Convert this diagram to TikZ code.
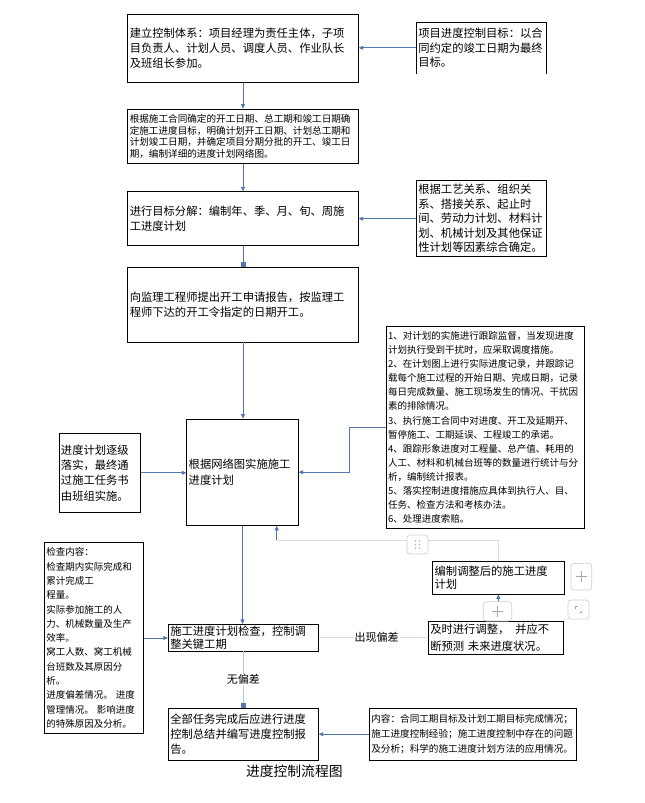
\documentclass[tikz,border=0pt]{standalone}
\usepackage{fontspec}
\newfontfamily\cjk{Noto Sans CJK SC}
\usetikzlibrary{arrows.meta}
\definecolor{linkblue}{RGB}{84,118,172}
\definecolor{faintline}{RGB}{214,220,228}
\definecolor{softblue}{RGB}{180,194,214}
\definecolor{uigray}{RGB}{205,208,214}
\newcommand{\fz}[2]{\cjk\fontsize{#1}{#2}\selectfont}

\begin{document}
\begin{tikzpicture}[x=1pt,y=-1pt]

%
% Styles
%
\tikzstyle{box} = [rectangle,draw=black,line width=0.8pt,inner xsep=2pt,inner ysep=0pt,align=left]
\tikzstyle{link} = [draw=linkblue,line width=0.8pt,-{Triangle[length=4.5pt,width=4pt]}]
\tikzstyle{plug} = [draw=linkblue,line width=0.8pt,-{Square[length=4.5pt,width=5pt]}]
\tikzstyle{faint} = [draw=faintline,line width=0.8pt]
\tikzstyle{tag} = [fill=white,inner sep=1pt,font=\fz{11}{13}]
\tikzstyle{uibtn} = [draw=uigray,fill=white,rounded corners=3pt,line width=0.7pt]
\tikzstyle{uimark} = [draw=gray!70,line width=0.6pt]

\useasboundingbox (0,0) rectangle (645,803);

\node[box,text width=226.5pt,minimum height=68pt,font=\fz{11.3}{14.7}] (ctrl) at (243,48.3)
  {建立控制体系：项目经理为责任主体，子项\\目负责人、计划人员、调度人员、作业队长\\及班组长参加。};
\node[box,draw=none,text width=125.7pt,minimum height=51pt,font=\fz{11.3}{14.5}] (goal) at (481.2,47.8)
  {项目进度控制目标：以合\\同约定的竣工日期为最终\\目标。};
\draw[line width=0.8pt] (goal.south west) -- (goal.north west) -- (goal.north east) -- (goal.south east);
\node[box,text width=226.5pt,minimum height=54.3pt,font=\fz{9.6}{11.5}] (plan) at (243,136.2)
  {根据施工合同确定的开工日期、总工期和竣工日期确\\定施工进度目标，明确计划开工日期、计划总工期和\\计划竣工日期，并确定项目分期分批的开工、竣工日\\期，编制详细的进度计划网络图。};
\node[box,text width=226.5pt,minimum height=53.6pt,font=\fz{11.3}{15.6}] (split) at (243,218.5)
  {进行目标分解：编制年、季、月、旬、周施\\工进度计划};
\node[box,text width=125.7pt,minimum height=76pt,font=\fz{11.3}{14.5}] (factor) at (481.2,218.7)
  {根据工艺关系、组织关\\系、搭接关系、起止时\\间、劳动力计划、材料计\\划、机械计划及其他保证\\性计划等因素综合确定。};
\node[box,text width=226.5pt,minimum height=74.7pt,font=\fz{11.3}{15.7}] (apply) at (243,304.6)
  {向监理工程师提出开工申请报告，按监理工\\程师下达的开工令指定的日期开工。};
\node[box,text width=107.6pt,minimum height=106.3pt,font=\fz{11.3}{16}] (exec) at (242.5,472.2)
  {根据网络图实施施工\\进度计划};
\node[box,text width=77.7pt,minimum height=79.7pt,font=\fz{11.3}{15.4}] (floor) at (99.8,472.8)
  {进度计划逐级\\落实，最终通\\过施工任务书\\由班组实施。};
\node[box,inner xsep=1.5pt,text width=194.6pt,minimum height=201.6pt,font=\fz{9.5}{14.1}] (track) at (485.5,427.5)
  {1、对计划的实施进行跟踪监督，当发现进度\\计划执行受到干扰时，应采取调度措施。\\2、在计划图上进行实际进度记录，并跟踪记\\载每个施工过程的开始日期、完成日期，记录\\每日完成数量、施工现场发生的情况、干扰因\\素的排除情况。\\3、执行施工合同中对进度、开工及延期开、\\暂停施工、工期延误、工程竣工的承诺。\\4、跟踪形象进度对工程量、总产值、耗用的\\人工、材料和机械台班等的数量进行统计与分\\析，编制统计报表。\\5、落实控制进度措施应具体到执行人、目、\\任务、检查方法和考核办法。\\6、处理进度索赔。};
\node[box,text width=95pt,minimum height=190.6pt,font=\fz{9.5}{14.3}] (inspect) at (93.8,638)
  {检查内容：\\检查期内实际完成和\\累计完成工\\程量。\\实际参加施工的人\\力、机械数量及生产\\效率。\\窝工人数、窝工机械\\台班数及其原因分\\析。\\进度偏差情况。 进度\\管理情况。 影响进度\\的特殊原因及分析。};
\node[box,text width=146pt,minimum height=26.7pt,font=\fz{11.3}{13.3}] (check) at (243.3,637.7)
  {施工进度计划检查，控制调\\整关键工期};
\node[box,text width=127.3pt,minimum height=33pt,font=\fz{11.3}{12.6}] (revise) at (498.3,577.5)
  {编制调整后的施工进度\\计划};
\node[box,text width=131pt,minimum height=33.3pt,font=\fz{11.3}{16.7}] (adjust) at (495.8,637.7)
  {及时进行调整，\hspace{6pt}并应不\\断预测 未来进度状况。};
\node[box,text width=146pt,minimum height=51.7pt,font=\fz{11.3}{14.7}] (summary) at (243.3,734.2)
  {全部任务完成后应进行进度\\控制总结并编写进度控制报\\告。};
\node[box,text width=203.3pt,minimum height=51.7pt,font=\fz{9.6}{14.7}] (content) at (473,734.2)
  {内容：合同工期目标及计划工期目标完成情况；\\施工进度控制经验；施工进度控制中存在的问题\\及分析；科学的施工进度计划方法的应用情况。};
\node[font=\fz{13.8}{16}] (title) at (294.3,771) {进度控制流程图};

\draw[link] (goal.west) -- (goal.west -| ctrl.east);
\draw[link] (ctrl) -- (plan);
\draw[link] (plan) -- (split);
\draw[link] (factor.west) -- (factor.west -| split.east);
\draw[plug] (split) -- (apply);
\draw[link] (apply.south) -- (apply.south |- exec.north);
\draw[link] (track.west) -- ++(-37.4,0) |- (exec.east);
\draw[link] (floor.east) -- (floor.east -| exec.west);
\draw[link] (exec.south) -- (exec.south |- check.north);
\draw[link] (inspect.east) -- (inspect.east -| check.west);
\draw[faint] (check.east) -- node[tag,pos=0.53] {出现偏差} (adjust.west);
\draw[link] (revise.south |- adjust.north) -- (revise.south);
\coordinate (back) at (276.7,540);
\draw[faint] (revise.north) |- (back);
\draw[link] (back) -- (back |- exec.south);
\draw[draw=softblue,line width=0.8pt,-{Square[length=4.5pt,width=5pt,color=linkblue]}] (check) -- node[tag] {无偏差} (summary);
\draw[link] (content.west) -- (content.west -| summary.east);

% editor buttons
\draw[uibtn] (407,535) rectangle (428,554);
\foreach \dx in {-2,2}
  \foreach \dy in {-3.5,0,3.5}
    \fill[gray!60] (417.5+\dx,544.5+\dy) circle (0.8pt);
\draw[uibtn] (571,563.3) rectangle (591.7,590);
\draw[uimark] (581.3,571) -- (581.3,582) (575.8,576.6) -- (586.8,576.6);
\draw[uibtn] (483.3,601.7) rectangle (511.7,621);
\draw[uimark] (497.5,606) -- (497.5,616.6) (492.2,611.3) -- (502.8,611.3);
\draw[uibtn] (568,600) rectangle (589,619);
\draw[uimark,line width=0.8pt] (575.5,608.5) -- (575.5,606.5) -- (577.5,606.5) (581.5,610.5) -- (581.5,612.5) -- (579.5,612.5);

\end{tikzpicture}
\end{document}
